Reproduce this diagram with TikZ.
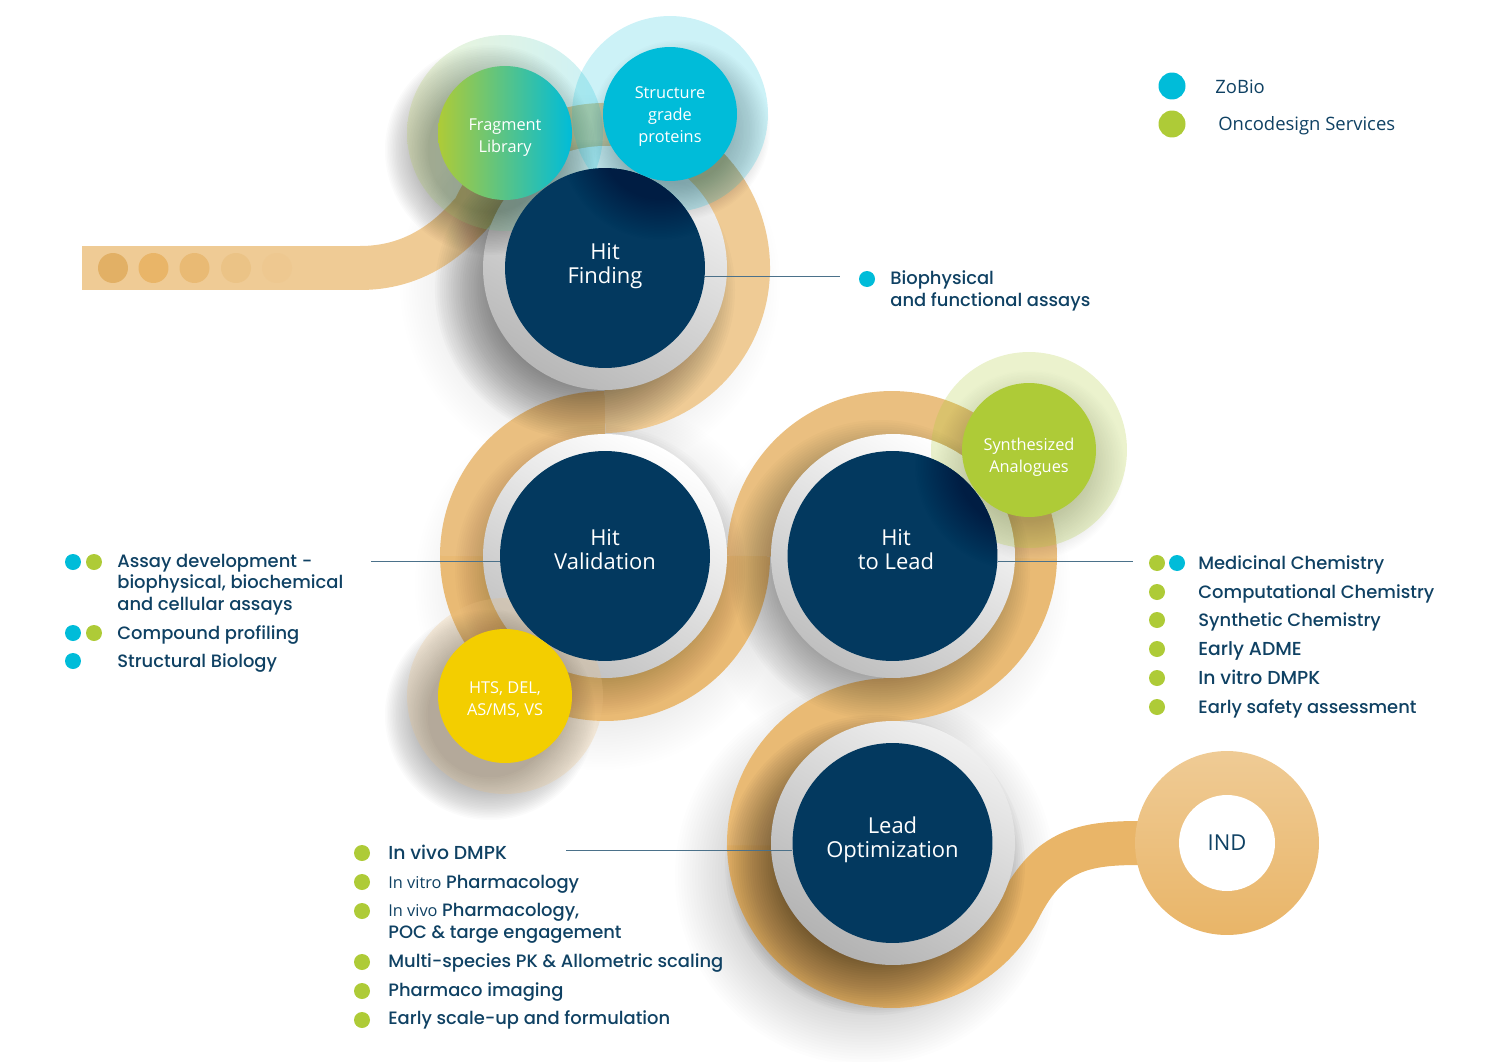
\documentclass[tikz,border=0pt]{standalone}
\usepackage{fontspec}
\usetikzlibrary{shadings}
\newfontfamily\labelfont{Poppins Medium}
\newfontfamily\discfont{Open Sans}
\definecolor{navy}{HTML}{03395F}
\definecolor{textnavy}{HTML}{0F4163}
\definecolor{zobio}{HTML}{00BCD9}
\definecolor{onco}{HTML}{AECB37}
\definecolor{sunny}{HTML}{F3CE00}
\definecolor{ribbonA}{HTML}{EFCB95}
\definecolor{ribbonB}{HTML}{EABF80}
\definecolor{ribbonC}{HTML}{E9BA74}
\definecolor{ribbonD}{HTML}{E9B568}
\newcommand{\softdisc}[4]{\pgfmathsetmacro{\halfop}{#4/2}\foreach \k in {0,...,27} {\fill[black,fill opacity=\halfop] (#1,#2) circle ({#3*(1-0.015*\k)});}}
\newcommand{\thinfont}{\discfont\fontsize{9.3}{12}\selectfont}
\begin{document}
\begin{tikzpicture}[x=0.02cm,y=0.02cm]
 \tikzstyle{ribbon}=[line width=0.88cm]
 \tikzstyle{ring}=[circle,minimum size=4.88cm,inner sep=0pt,shade]
 \tikzstyle{bigdisc}=[circle,fill=navy,text=white,inner sep=0pt,align=center,font=\discfont\fontsize{12.5}{13.7}\selectfont]
 \tikzstyle{halo}=[circle,minimum size=3.92cm,inner sep=0pt]
 \tikzstyle{smalldisc}=[circle,minimum size=2.68cm,inner sep=0pt,text=white,align=center,font=\discfont\fontsize{9.3}{12.5}\selectfont]
 \tikzstyle{puce}=[circle,minimum size=0.32cm,inner sep=0pt]
 \tikzstyle{legendpuce}=[circle,minimum size=0.54cm,inner sep=0pt]
 \tikzstyle{tailpuce}=[circle,minimum size=0.6cm,inner sep=0pt]
 \tikzstyle{item}=[anchor=base west,inner sep=0pt,text=textnavy,align=left,font=\labelfont\fontsize{10.2}{12}\selectfont]
 \tikzstyle{itemwide}=[item,font=\labelfont\fontsize{10.7}{12}\selectfont]
 \tikzstyle{legend}=[anchor=base west,inner sep=0pt,text=textnavy,font=\discfont\fontsize{10.5}{12}\selectfont]
 \tikzstyle{lien}=[draw=textnavy!75,line width=0.5pt]
 \useasboundingbox (0,-1061) rectangle (1500,0);
 % shadows of the ribbon on the white
 \softdisc{865}{-875}{190}{0.014}
 \softdisc{600}{-585}{185}{0.0115}
 \softdisc{885}{-585}{185}{0.0115}
 \softdisc{590}{-285}{190}{0.009}
 % ribbon
 \draw[ribbon,draw=ribbonD] (749,-843) arc[start angle=180,end angle=333,radius=2.86cm] .. controls (1049,-849) and (1085,-843) .. (1140,-843);
 \draw[ribbon,draw=ribbonC] (892,-700) arc[start angle=90,end angle=181,radius=2.86cm];
 \draw[ribbon,draw=ribbonC] (1035,-556) arc[start angle=0,end angle=-91,radius=2.86cm];
 \draw[ribbon,draw=ribbonB] (749,-556) arc[start angle=180,end angle=-1,radius=2.86cm];
 \draw[ribbon,draw=ribbonC] (748,-556) arc[start angle=0,end angle=-181,radius=2.86cm];
 \draw[ribbon,draw=ribbonB] (462,-556) arc[start angle=180,end angle=90,radius=2.86cm];
 \draw[ribbon,draw=ribbonA] (82,-268) -- (360,-268) .. controls (412,-268) and (447,-242) .. (474.4,-209.8) arc[start angle=156,end angle=-90,radius=2.86cm];
 % tail dots
 \node[tailpuce,fill=ribbonD!97!black] (dotA) at (113,-268) {};
 \node[tailpuce,fill=ribbonD] (dotB) at (153.5,-268) {};
 \node[tailpuce,fill=ribbonC] (dotC) at (194.5,-268) {};
 \node[tailpuce,fill=ribbonB!70!ribbonA] (dotD) at (236,-268) {};
 \node[tailpuce,fill=ribbonB!25!ribbonA] (dotE) at (277,-268) {};
 % IND
 \node[circle,minimum size=3.68cm,inner sep=0pt,shade,top color=ribbonA,bottom color=ribbonD] (indring) at (1227,-843) {};
 \node[circle,minimum size=1.92cm,inner sep=0pt,fill=white,text=textnavy,font=\discfont\fontsize{12.5}{14}\selectfont] (ind) at (1227,-843) {IND};
 % shadows of the rings on the ribbon
 \softdisc{585}{-290}{150}{0.042}
 \softdisc{600}{-570}{145}{0.025}
 \softdisc{880}{-570}{150}{0.03}
 \softdisc{875}{-865}{150}{0.048}
 % rings
 \node[ring,top color=black!5,bottom color=black!28,shading angle=-30] (findingring) at (605,-268) {};
 \node[ring,top color=white,bottom color=black!25,shading angle=-30] (validationring) at (605,-556) {};
 \node[ring,top color=white,bottom color=black!25,shading angle=-30] (toleadring) at (893,-556) {};
 \node[ring,top color=black!6,bottom color=black!30,shading angle=-30] (leadring) at (893,-843) {};
 % halos
 \softdisc{490}{-150}{105}{0.028}
 \softdisc{680}{-130}{90}{0.02}
 \softdisc{490}{-715}{105}{0.028}
 \softdisc{1030}{-465}{95}{0.012}
 \node[halo,shade,left color=onco,right color=zobio,fill opacity=0.2] (fragmenthalo) at (505,-133) {};
 \node[halo,fill=zobio,fill opacity=0.2] (structurehalo) at (670,-114) {};
 \node[halo,fill=onco,fill opacity=0.25] (synthhalo) at (1029,-450) {};
 \node[halo,fill=ribbonB,fill opacity=0.25] (htshalo) at (505,-696) {};
 % big discs
 \node[bigdisc,minimum size=4cm] (finding) at (605,-268) {};
 \node[bigdisc,minimum size=4.2cm] (validation) at (605,-556) {};
 \node[bigdisc,minimum size=4.2cm] (tolead) at (892.5,-556) {};
 \begin{scope}
  \clip (605,-268) circle (100);
  \softdisc{660}{-140}{100}{0.012}
 \end{scope}
 \begin{scope}
  \clip (892.5,-556) circle (105);
  \softdisc{1020}{-465}{105}{0.018}
 \end{scope}
 \node[bigdisc,minimum size=4cm,fill=none] (findingtext) at (605,-268) {Hit\\Finding\\[-8.5pt]\mbox{}};
 \node[bigdisc,minimum size=4.2cm,fill=none] (validationtext) at (605,-556) {Hit\\Validation\\[-6pt]\mbox{}};
 \node[bigdisc,minimum size=4.2cm,fill=none] (toleadtext) at (892.5,-556) {\hspace*{4pt}Hit\\\hspace*{4pt}to Lead\\[-6pt]\mbox{}};
 \node[bigdisc,minimum size=4cm] (lead) at (892.5,-843) {Lead\\Optimization\\[-7pt]\mbox{}};
 % small discs
 \node[smalldisc,shade,left color=onco,right color=zobio] (fragment) at (505,-133) {\mbox{}\\[-1.1pt]Fragment\\Library};
 \node[smalldisc,fill=zobio] (structure) at (670,-114) {\mbox{}\\[-2.9pt]Structure\\grade\\proteins};
 \node[smalldisc,fill=onco] (synth) at (1029,-450) {\mbox{}\\[2.3pt]Synthesized\\Analogues};
 \node[smalldisc,fill=sunny] (hts) at (505,-696) {\mbox{}\\[-1.1pt]HTS, DEL,\\AS/MS, VS};
 % links
 \coordinate (findingend) at (840,-278);
 \coordinate (validationend) at (371,-562);
 \coordinate (toleadend) at (1133,-561.5);
 \coordinate (leadend) at (566,-850);
 \draw[lien] (finding.-5.7) -- (finding.-5.7 -| findingend);
 \draw[lien] (validation.183.3) -- (validation.183.3 -| validationend);
 \draw[lien] (tolead.-3) -- (tolead.-3 -| toleadend);
 \draw[lien] (lead.184) -- (lead.184 -| leadend);
 % legend
 \node[legendpuce,fill=zobio] (pzobio) at (1172,-86) {};
 \node[legendpuce,fill=onco] (ponco) at (1172,-124) {};
 \node[legend] (lzobio) at (1215,-93) {ZoBio};
 \node[legend] (lonco) at (1218,-131) {Oncodesign Services};
 % finding list
 \node[puce,fill=zobio] (fa) at (867,-279) {};
 \node[item] (ta) at (890,-306) {Biophysical\\and functional assays};
 % validation list
 \node[puce,fill=zobio] (va) at (73,-562) {};
 \node[puce,fill=onco] (vb) at (94,-562) {};
 \node[puce,fill=zobio] (vc) at (73,-633) {};
 \node[puce,fill=onco] (vd) at (94,-633) {};
 \node[puce,fill=zobio] (ve) at (73,-661) {};
 \node[item] (tva) at (117,-610) {Assay development -\\biophysical, biochemical\\and cellular assays};
 \node[item] (tvb) at (117,-639) {Compound profiling};
 \node[item] (tvc) at (117,-667) {Structural Biology};
 % to lead list
 \node[puce,fill=onco] (la) at (1157,-563) {};
 \node[puce,fill=zobio] (lb) at (1177,-563) {};
 \node[puce,fill=onco] (lc) at (1157,-592) {};
 \node[puce,fill=onco] (ld) at (1157,-620) {};
 \node[puce,fill=onco] (le) at (1157,-649) {};
 \node[puce,fill=onco] (lf) at (1157,-678) {};
 \node[puce,fill=onco] (lg) at (1157,-707) {};
 \node[item] (tla) at (1198,-569) {Medicinal Chemistry};
 \node[item] (tlb) at (1198,-598) {Computational Chemistry};
 \node[item] (tlc) at (1198,-626) {Synthetic Chemistry};
 \node[itemwide] (tld) at (1198,-655) {Early ADME};
 \node[itemwide] (tle) at (1198,-684) {In vitro DMPK};
 \node[item] (tlf) at (1198,-713) {Early safety assessment};
 % lead list
 \node[puce,fill=onco] (oa) at (362,-853) {};
 \node[puce,fill=onco] (ob) at (362,-882) {};
 \node[puce,fill=onco] (oc) at (362,-911) {};
 \node[puce,fill=onco] (od) at (362,-962) {};
 \node[puce,fill=onco] (oe) at (362,-991) {};
 \node[puce,fill=onco] (of) at (362,-1020) {};
 \node[itemwide] (toa) at (388,-859) {In vivo DMPK};
 \node[item] (tob) at (388,-888) {{\thinfont In vitro} Pharmacology};
 \node[item] (toc) at (388,-938) {{\thinfont In vivo} Pharmacology,\\POC \& targe engagement};
 \node[item] (tod) at (388,-967) {Multi-species PK \& Allometric scaling};
 \node[item] (toe) at (388,-996) {Pharmaco imaging};
 \node[item] (tof) at (388,-1024) {Early scale-up and formulation};
\end{tikzpicture}
\end{document}
